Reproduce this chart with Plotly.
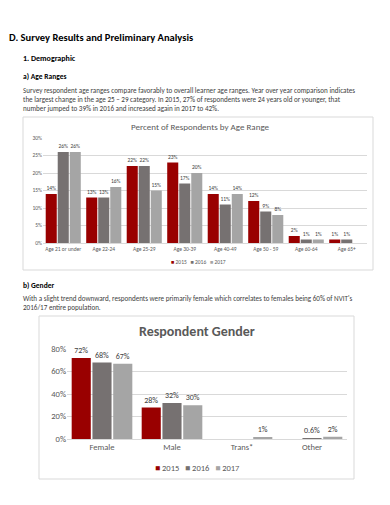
import plotly.graph_objects as go

# The page body has an 8px default margin, so the figure is drawn 8px in from
# the window edge; all layout positions below are given in window pixels.
OFF = 8
W, H = 390 - 2 * OFF, 505 - 2 * OFF

# ---- data ----
years = ["2015", "2016", "2017"]
colors = ["#990000", "#767171", "#A5A5A5"]

age_cats = ["Age 21 or under", "Age 22-24", "Age 25-29", "Age 30-39",
            "Age 40-49", "Age 50 - 59", "Age 60-64", "Age 65+"]
age_2015 = [14, 13, 22, 23, 14, 12, 2, 1]
age_2016 = [26, 13, 22, 17, 11, 9, 1, 1]
age_2017 = [26, 16, 15, 20, 14, 8, 1, None]
age_ticks = [0, 5, 10, 15, 20, 25, 30]

gender_cats = ["Female", "Male", "Trans*", "Other"]
gender_2015 = [72, 28, None, None]
gender_2016 = [68, 32, None, 0.6]
gender_2017 = [67, 30, 1, 2]
gender_ticks = [0, 20, 40, 60, 80]

FONT = "Carlito, 'Liberation Sans', Arial, sans-serif"


def px(x):
    return (x - OFF) / W


def py(y):
    return 1 - (y - OFF) / H


def lbl(vals):
    return [None if v is None else f"{v:g}%" for v in vals]


fig = go.Figure()

for name, vals, c in zip(years, [age_2015, age_2016, age_2017], colors):
    fig.add_trace(go.Bar(
        x=age_cats, y=vals, name=name, marker=dict(color=c, line=dict(width=0)),
        text=lbl(vals), textposition="outside",
        textfont=dict(size=5.5, color="#404040"), cliponaxis=False,
        xaxis="x", yaxis="y", showlegend=False, hoverinfo="skip"))

for name, vals, c in zip(years, [gender_2015, gender_2016, gender_2017], colors):
    fig.add_trace(go.Bar(
        x=gender_cats, y=vals, name=name, marker=dict(color=c, line=dict(width=0)),
        text=lbl(vals), textposition="outside",
        textfont=dict(size=8, color="#404040"), cliponaxis=False,
        xaxis="x2", yaxis="y2", showlegend=False, hoverinfo="skip"))

grid = "#D9D9D9"
tickc = "#595959"

fig.update_layout(
    width=W, height=H, margin=dict(l=0, r=0, t=0, b=0, autoexpand=False),
    paper_bgcolor="white", plot_bgcolor="rgba(0,0,0,0)",
    font=dict(family=FONT, color="#404040"),
    barmode="group", bargap=0.11, bargroupgap=0.08, showlegend=False,
    xaxis=dict(domain=[px(43), px(367)], anchor="y", showgrid=False, automargin=False,
               showline=True, linecolor=grid, linewidth=1, ticks="",
               tickfont=dict(size=5.5, color=tickc)),
    yaxis=dict(domain=[py(243), py(138)], anchor="x", range=[0, 30], automargin=False,
               tickvals=age_ticks, ticktext=[f"{t}%" for t in age_ticks],
               showgrid=True, gridcolor=grid, gridwidth=1, zeroline=False,
               showline=False, tickfont=dict(size=5.5, color=tickc)),
    xaxis2=dict(domain=[px(67), px(347)], anchor="y2", showgrid=False, automargin=False,
                showline=True, linecolor=grid, linewidth=1, ticks="",
                tickfont=dict(size=8.5, color=tickc)),
    yaxis2=dict(domain=[py(439), py(349)], anchor="x2", range=[0, 80], automargin=False,
                tickvals=gender_ticks, ticktext=[f"{t}%" for t in gender_ticks],
                showgrid=True, gridcolor=grid, gridwidth=1, zeroline=False,
                showline=False, tickfont=dict(size=8.5, color=tickc)),
)

# chart frames
fig.add_shape(type="rect", xref="paper", yref="paper",
              x0=px(23), x1=px(373), y0=py(270), y1=py(117),
              line=dict(color="#D9D9D9", width=1), layer="below")
fig.add_shape(type="rect", xref="paper", yref="paper",
              x0=px(39), x1=px(354), y0=py(479), y1=py(316),
              line=dict(color="#D9D9D9", width=1), layer="below")


def text(x, y, s, size, bold=False, color="#262626", anchor="left", yanchor="middle"):
    fig.add_annotation(xref="paper", yref="paper", x=px(x), y=py(y),
                       text=(f"<b>{s}</b>" if bold else s),
                       showarrow=False, xanchor=anchor, yanchor=yanchor, borderpad=0,
                       align=("left" if anchor == "left" else "center"),
                       font=dict(size=size, color=color, family=FONT))


text(8, 38, "D. Survey Results and Preliminary Analysis", 10.5, bold=True, color="#000000")
text(22, 58, "1. Demographic", 8, bold=True, color="#000000")
text(22, 76, "a) Age Ranges", 7.5, bold=True, color="#000000")
para1 = [
    "Survey respondent age ranges compare favorably to overall learner age ranges. Year over year comparison indicates",
    "the largest change in the age 25 \u2013 29 category. In 2015, 27% of respondents were 24 years old or younger, that",
    "number jumped to 39% in 2016 and increased again in 2017 to 42%.",
]
text(22, 85, "<br>".join(para1), 7.1, color="#404040", yanchor="top")

text(200, 127, "Percent of Respondents by Age Range", 9, color="#595959", anchor="center")


def legend_text():
    parts = [f"<span style='color:{c}'>\u25A0</span> {y}" for y, c in zip(years, colors)]
    return "   ".join(parts)


text(198, 262, legend_text(), 5.5, color=tickc, anchor="center")

text(22, 285, "b) Gender", 7.5, bold=True, color="#000000")
para2 = [
    "With a slight trend downward, respondents were primarily female which correlates to females being 60% of NVIT's",
    "2016/17 entire population.",
]
text(22, 292.5, "<br>".join(para2), 7.1, color="#404040", yanchor="top")

text(197, 331, "Respondent Gender", 14, bold=True, color="#595959", anchor="center")
text(197, 468, legend_text(), 8.5, color=tickc, anchor="center")

fig.write_html("out.html")
